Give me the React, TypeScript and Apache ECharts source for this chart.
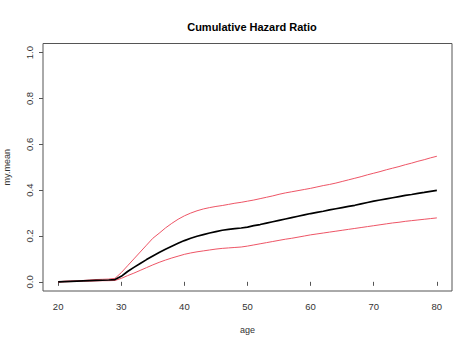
import React, { useEffect, useRef } from "react";
import * as echarts from "echarts";

const ages: number[] = [
  20, 21, 22, 23, 24, 25, 26, 27, 28, 29, 30, 31, 32, 33, 34, 35, 36, 37, 38, 39,
  40, 41, 42, 43, 44, 45, 46, 47, 48, 49, 50, 51, 52, 53, 54, 55, 56, 57, 58, 59,
  60, 61, 62, 63, 64, 65, 66, 67, 68, 69, 70, 71, 72, 73, 74, 75, 76, 77, 78, 79, 80,
];

const meanValues: number[] = [
  0.0, 0.001, 0.002, 0.003, 0.004, 0.005, 0.006, 0.007, 0.008, 0.01, 0.024, 0.045, 0.063, 0.08, 0.097, 0.113, 0.128, 0.142, 0.155, 0.168,
  0.18, 0.19, 0.199, 0.206, 0.213, 0.219, 0.225, 0.229, 0.232, 0.235, 0.239, 0.245, 0.25, 0.256, 0.262, 0.268, 0.274, 0.28, 0.286, 0.292,
  0.298, 0.303, 0.308, 0.314, 0.319, 0.324, 0.329, 0.334, 0.34, 0.346, 0.352, 0.357, 0.362, 0.367, 0.372, 0.377, 0.381, 0.386, 0.39, 0.395, 0.399,
];

const upperValues: number[] = [
  0.0, 0.003, 0.004, 0.005, 0.006, 0.008, 0.01, 0.011, 0.012, 0.015, 0.04, 0.07, 0.1, 0.13, 0.16, 0.19, 0.212, 0.235, 0.255, 0.273,
  0.288, 0.3, 0.31, 0.318, 0.324, 0.329, 0.333, 0.338, 0.343, 0.347, 0.352, 0.357, 0.363, 0.369, 0.375, 0.382, 0.388, 0.393, 0.398, 0.403,
  0.408, 0.414, 0.42, 0.425, 0.431, 0.438, 0.445, 0.452, 0.459, 0.467, 0.474, 0.481, 0.489, 0.496, 0.503, 0.511, 0.518, 0.526, 0.533, 0.541, 0.548,
];

const lowerValues: number[] = [
  -0.002, 0.0, 0.001, 0.002, 0.003, 0.003, 0.004, 0.005, 0.005, 0.006, 0.015, 0.027, 0.038, 0.05, 0.062, 0.074, 0.085, 0.095, 0.104, 0.112,
  0.12, 0.126, 0.131, 0.135, 0.139, 0.143, 0.146, 0.148, 0.15, 0.152, 0.156, 0.161, 0.166, 0.171, 0.176, 0.181, 0.186, 0.19, 0.195, 0.2,
  0.205, 0.209, 0.213, 0.217, 0.221, 0.225, 0.229, 0.233, 0.237, 0.241, 0.245, 0.249, 0.253, 0.257, 0.26, 0.264, 0.267, 0.27, 0.273, 0.276, 0.279,
];

const xTicks: number[] = [20, 30, 40, 50, 60, 70, 80];
const yTicks: number[] = [0, 0.2, 0.4, 0.6, 0.8, 1.0];

const FONT = "'Liberation Sans', Arial, sans-serif";

export default function App() {
  const ref = useRef<HTMLDivElement>(null);

  useEffect(() => {
    if (!ref.current) return;
    const chart = echarts.init(ref.current, undefined, { renderer: "svg" });
    const pairs = (vals: number[]) => ages.map((a, i) => [a, vals[i]]);
    chart.setOption({
      animation: false,
      backgroundColor: "#ffffff",
      title: {
        text: "Cumulative Hazard Ratio",
        left: 247,
        top: 16,
        textAlign: "center",
        textStyle: { fontFamily: FONT, fontSize: 11, fontWeight: "bold", color: "#000" },
      },
      grid: {
        left: 43,
        right: 22,
        top: 43.5,
        bottom: 54,
        show: true,
        borderColor: "#555",
        borderWidth: 1,
        backgroundColor: "transparent",
        containLabel: false,
        outerBoundsMode: "none",
      },
      xAxis: {
        type: "value",
        min: 17.6,
        max: 82.4,
        name: "age",
        nameLocation: "middle",
        nameGap: 34,
        nameTextStyle: { fontFamily: FONT, fontSize: 9, color: "#333" },
        axisLine: { show: false },
        splitLine: { show: false },
        axisTick: {
          show: true,
          customValues: xTicks,
          length: 4,
          inside: false,
          lineStyle: { color: "#555" },
        },
        axisLabel: {
          customValues: xTicks,
          margin: 10,
          fontFamily: FONT,
          fontSize: 9.5,
          color: "#333",
        },
      },
      yAxis: {
        type: "value",
        min: -0.04,
        max: 1.04,
        name: "my.mean",
        nameLocation: "middle",
        nameGap: 32,
        nameTextStyle: { fontFamily: FONT, fontSize: 9, color: "#333" },
        axisLine: { show: false },
        splitLine: { show: false },
        axisTick: {
          show: true,
          customValues: yTicks,
          length: 4,
          lineStyle: { color: "#555" },
        },
        axisLabel: {
          customValues: yTicks,
          rotate: 90,
          margin: 9,
          fontFamily: FONT,
          fontSize: 9.5,
          color: "#333",
          formatter: (v: number) => v.toFixed(1),
        },
      },
      series: [
        {
          name: "upper",
          type: "line",
          data: pairs(upperValues),
          showSymbol: false,
          lineStyle: { color: "#ee5566", width: 1 },
          z: 2,
        },
        {
          name: "lower",
          type: "line",
          data: pairs(lowerValues),
          showSymbol: false,
          lineStyle: { color: "#ee5566", width: 1 },
          z: 2,
        },
        {
          name: "mean",
          type: "line",
          data: pairs(meanValues),
          showSymbol: false,
          lineStyle: { color: "#000", width: 1.7 },
          z: 3,
        },
      ],
    });
    return () => chart.dispose();
  }, []);

  return <div ref={ref} style={{ width: 474, height: 345, position: "absolute", left: 0, top: 0 }} />;
}
